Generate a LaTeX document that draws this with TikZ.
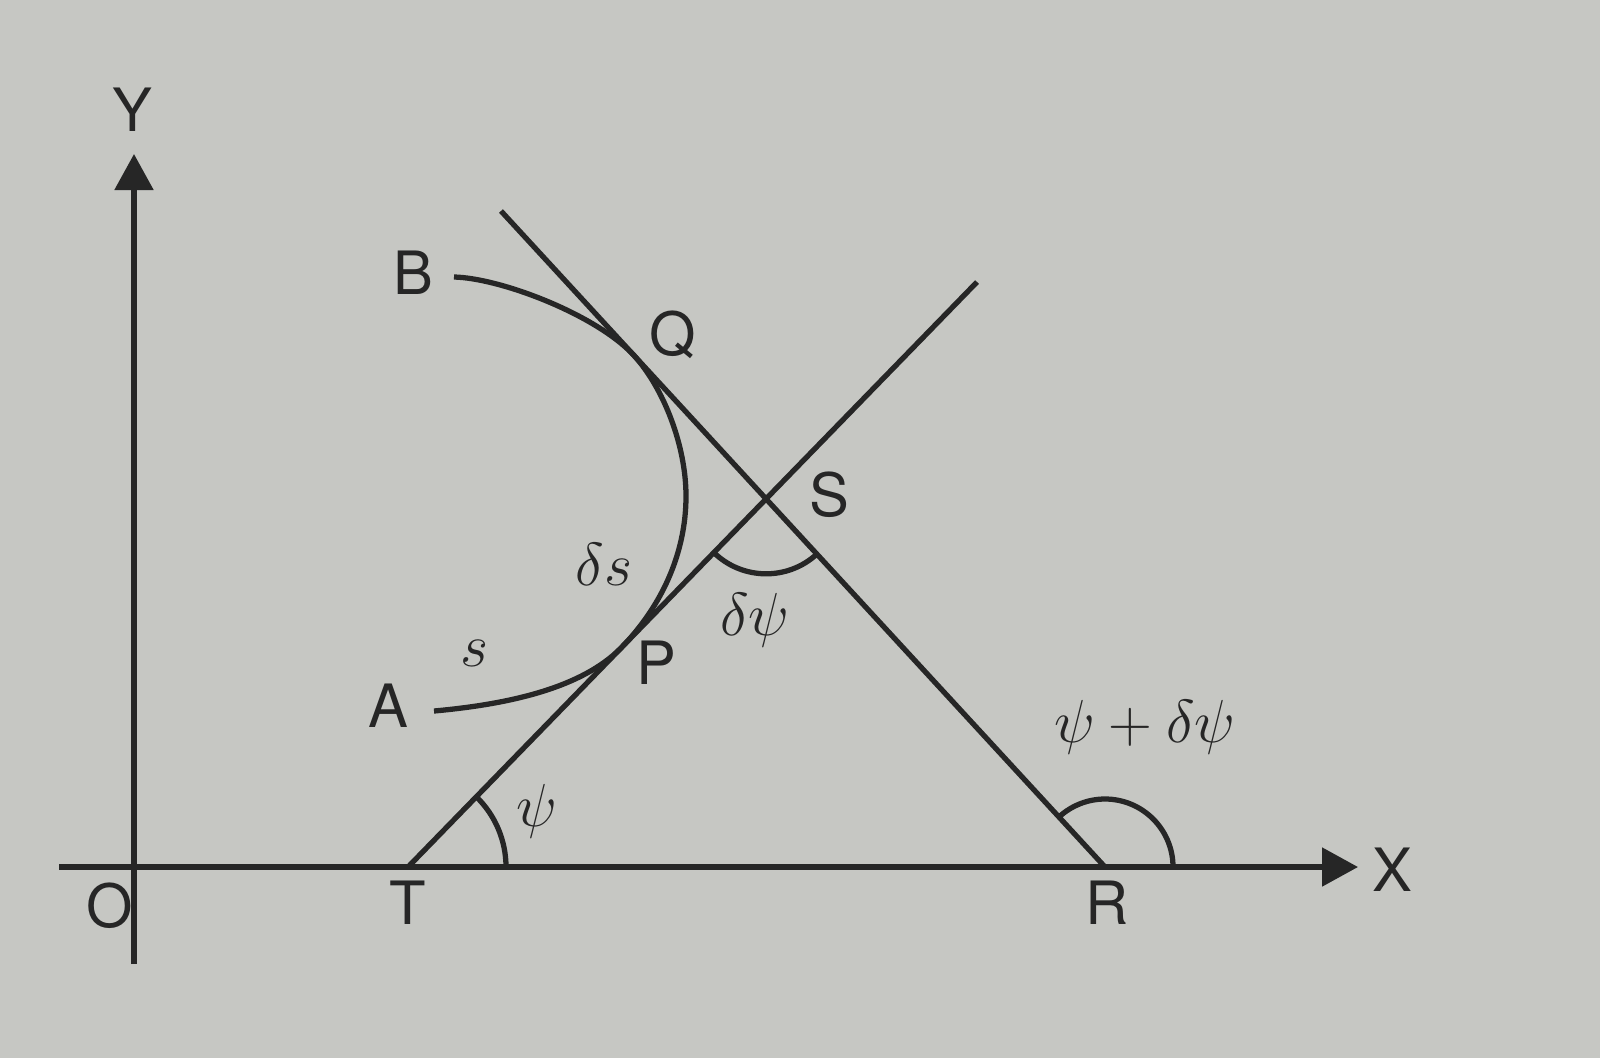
\documentclass[tikz,border=0pt]{standalone}
\usepackage{fontspec}
\setsansfont{TeX Gyre Heros}
\usetikzlibrary{arrows.meta,calc}
\definecolor{paper}{RGB}{198,199,195}
\definecolor{ink}{RGB}{38,38,38}
\tikzset{
 ln/.style={draw=ink, line width=1.5pt},
 lbl/.style={text=ink, font=\sffamily\fontsize{17}{20}\selectfont, inner sep=0pt},
 mth/.style={text=ink, font=\fontsize{16}{19}\selectfont, inner sep=0pt},
 axisarrow/.style={-{Triangle[length=3.6mm,width=3.8mm]}},
}
\begin{document}
\begin{tikzpicture}
\fill[paper] (0,0) rectangle (16,10.58);
\useasboundingbox (0,0) rectangle (16,10.58);
\coordinate (O) at (1.34,1.91);
\coordinate (Xl) at (0.59,1.91);
\coordinate (Xr) at (13.58,1.91);
\coordinate (Yb) at (1.34,0.94);
\coordinate (Yt) at (1.34,9.04);
\coordinate (T) at (4.08,1.91);
\coordinate (R) at (11.05,1.91);
\coordinate (L1) at (9.77,7.76);
\coordinate (U1) at (5.01,8.47);
\coordinate (S) at (intersection of T--L1 and R--U1);
\coordinate (P) at ($(T)!0.375!(L1)$);
\coordinate (Q) at ($(R)!0.78!(U1)$);
\coordinate (A) at (4.34,3.47);
\coordinate (M) at (6.86,5.62);
\coordinate (B) at (4.54,7.81);

\draw[ln, axisarrow] (Xl) -- (Xr);
\draw[ln, axisarrow] (Yb) -- (Yt);
\draw[ln] (T) -- (L1);
\draw[ln] (R) -- (U1);
\draw[ln] (A) .. controls (5.0,3.53) and ($(P)+(-0.42,-0.43)$) .. (P)
  .. controls ($(P)+(0.38,0.39)$) and (6.86,5.02) .. (M)
  .. controls (6.86,6.12) and ($(Q)+(0.3,-0.33)$) .. (Q)
  .. controls ($(Q)+(-0.38,0.41)$) and (5.0,7.80) .. (B);

\draw[ln] ($(T)+(0.98,0)$) arc[start angle=0, end angle=45.8, radius=0.98];
\draw[ln] ($(S)+(225.8:0.75)$) arc[start angle=225.8, end angle=312.6, radius=0.75];
\draw[ln] ($(R)+(0.68,0)$) arc[start angle=0, end angle=132.6, radius=0.68];

\node[lbl] (lY) at (1.32,9.48) {Y};
\node[lbl] (lX) at (13.92,1.88) {X};
\node[lbl] (lO) at (1.10,1.52) {O};
\node[lbl] (lT) at (4.08,1.55) {T};
\node[lbl] (lR) at (11.07,1.55) {R};
\node[lbl] (lB) at (4.13,7.85) {B};
\node[lbl] (lQ) at (6.73,7.23) {Q};
\node[lbl] (lS) at (8.29,5.63) {S};
\node[lbl] (lP) at (6.56,3.95) {P};
\node[lbl] (lA) at (3.88,3.52) {A};
\node[mth] (lds) at (6.04,4.94) {$\delta s$};
\node[mth] (ls) at (4.74,4.05) {$s$};
\node[mth] (ldpsi) at (7.55,4.38) {$\delta\psi$};
\node[mth] (lpsi) at (5.37,2.47) {$\psi$};
\node[mth] (lpsid) at (11.45,3.31) {$\psi+\delta\psi$};
\end{tikzpicture}
\end{document}
